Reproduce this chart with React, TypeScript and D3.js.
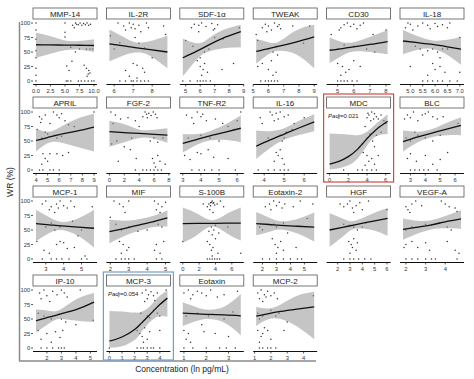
import React from 'react';
import * as d3 from 'd3';

const panelNames = ["MMP-14","IL-2R","SDF-1α","TWEAK","CD30","IL-18","APRIL","FGF-2","TNF-R2","IL-16","MDC","BLC","MCP-1","MIF","S-100B","Eotaxin-2","HGF","VEGF-A","IP-10","MCP-3","Eotaxin","MCP-2"];

const xExtents = [[0,10],[5.75,8.8],[4.8,8.8],[5.2,9.0],[4.5,8.1],[4.7,7.05],[4,9],[0,7.8],[3,6.2],[3.6,6.5],[0,6.2],[2.5,6.4],[2.45,5.7],[1.95,5.1],[0,7.1],[1.55,5.7],[1.35,6.05],[1.85,4.8],[1.25,5.25],[0,4.6],[0.95,3.55],[1.1,4.65]];

const xTickVals = [[0,2.5,5,7.5,10],[6,7,8],[5,6,7,8,9],[5,6,7,8,9],[5,6,7,8],[5,5.5,6,6.5,7],[4,5,6,7,8,9],[0,2,4,6,8],[3,4,5,6],[4,5,6],[0,2,4,6],[3,4,5,6],[3,4,5],[2,3,4,5],[0,2,4,6],[2,3,4,5],[2,3,4,5,6],[2,3,4],[2,3,4,5],[0,1,2,3,4],[1,2,3],[1,2,3,4]];
const xTickLabels = [["0.0","2.5","5.0","7.5","10.0"],null,null,null,null,["5.0","5.5","6.0","6.5","7.0"],null,null,null,null,null,null,null,null,null,null,null,null,null,null,null,null];

const yTickVals = [0,25,50,75,100];

const fitX = [
  [0,2.5,5,7.5,10],[5.75,6.5,7.1,7.8,8.8],[4.8,5.8,6.5,7.5,8.8],[5.2,6,6.7,7.8,9.0],[4.5,5.3,6,7,8.1],[4.7,5.3,5.9,6.5,7.05],
  [4,5,6,7.5,9],[0,2,4,5.5,7.8],[3,3.8,4.5,5.3,6.2],[3.6,4.3,5,5.7,6.5],[0,1,2,3,4,5,6.2],[2.5,3.5,4.5,5.5,6.4],
  [2.45,3.2,3.9,4.8,5.7],[1.95,2.8,3.6,4.4,5.1],[0,1.8,3.6,5.4,7.1],[1.55,2.5,3.3,4.5,5.7],[1.35,2.5,3.4,4.8,6.05],[1.85,2.6,3.3,4.0,4.8],
  [1.25,2.2,2.9,4.1,5.25],[0,1,2,2.5,3,3.5,4,4.6],[0.95,1.6,2.1,2.8,3.55],[1.1,1.8,2.6,3.6,4.65]
];
const fitY = [
  [62.5,62.2,62,61.6,61.2],[64,60.5,57.5,54.5,50],[40,52,61,73,85],[51,56,60,67,76],[53,56,59,63,68],[69,66,63,59,55],
  [51,56,61,67,74],[66,64.5,63,62,60],[46,53,59,65,72],[41,52,62,72,83],[10,15,23,36,54,70,84],[49,57,64,71,77],
  [61,59,57,55,53],[47,53,59,65,71],[61,61.3,61.5,61.8,62],[61,59.5,58,56.5,55],[50,55,59,65,70],[51,55,59,64,69],
  [47,53.5,58.5,67,79],[12,19,32,42,53,64,75,86],[60,59,58,57,55.5],[55,59,63,67,71]
];
const fitLo = [
  [40,47,53,54,50],[34,44,49,45,22],[8,38,50,56,58],[30,46,52,46,22],[31,44,51,50,46],[46,54,55,45,28],
  [32,46,48,40,32],[40,48,55,55,47],[30,44,51,52,48],[19,38,52,60,67],[1,3,8,20,42,58,62],[32,48,57,60,60],
  [31,45,50,40,20],[27,40,49,55,56],[28,42,56,44,32],[41,47,51,44,30],[21,40,52,50,40],[33,44,51,53,52],
  [27,43,50,47,45],[1,3,14,26,40,50,55,54],[38,47,50,44,22],[38,49,50,37,15]
];
const fitHi = [
  [83,77,70,69,72],[89,76,67,68,78],[73,65,72,87,97],[73,67,68,87,97],[75,67,67,76,88],[88,77,70,71,76],
  [71,66,73,88,97],[85,79,70,69,72],[62,62,67,78,94],[68,67,72,84,96],[63,62,61,60,66,80,96],[68,66,71,82,91],
  [85,72,64,70,85],[68,66,69,75,84],[89,78,67,78,89],[81,71,65,69,80],[79,69,66,78,88],[70,66,67,74,84],
  [67,64,66,85,95],[64,63,61,62,68,79,90,99],[79,70,66,71,93],[71,68,75,90,97]
];

const pts = [
  [[0,100],[0,88],[0,72],[0,52],[0,40],[0,22],[0,10],[0,0],[5,100],[5,84],[5,76],[5.2,0],[5.3,26],[5.7,18],[6,58],[6.2,34],[6.3,96],[6.8,100],[6.8,50],[7,98],[7.3,0],[7.3,97],[7.6,100],[7.8,0],[7.9,96],[8.2,99],[8.3,27],[8.4,0],[8.5,97],[8.7,55],[8.7,22],[8.8,100],[8.8,8],[9,12],[9,0],[9.1,18],[9.1,96],[9.3,55],[9.3,14],[9.4,98],[9.6,0],[9.8,55],[10,0],[5.5,0],[6,0],[6.6,92],[7.5,55]],
  [[5.8,78],[6,55],[6.3,66],[6.3,0],[6.5,95],[6.6,88],[6.6,18],[6.6,0],[6.8,100],[6.8,8],[6.9,92],[6.9,0],[7,98],[7,30],[7,0],[7.1,90],[7.2,27],[7.2,5],[7.2,0],[7.3,96],[7.3,65],[7.4,85],[7.4,0],[7.5,22],[7.6,57],[7.6,15],[7.6,0],[7.7,100],[7.8,92],[7.8,0],[8,40],[8.6,95],[8.7,80],[6.2,100],[7.1,75]],
  [[4.8,0],[5,70],[5.3,0],[5.4,92],[5.6,98],[5.8,35],[5.8,0],[5.9,85],[5.9,96],[6,25],[6,40],[6,0],[6.1,10],[6.1,100],[6.2,20],[6.2,0],[6.3,30],[6.3,50],[6.4,94],[6.4,0],[6.5,15],[6.6,55],[6.7,0],[6.8,99],[7,75],[7,90],[7.2,97],[7.5,20],[7.6,73],[8.3,30],[8.7,92],[6.9,88],[5.5,60]],
  [[5.2,80],[5.3,70],[5.3,25],[5.5,0],[5.6,30],[5.6,92],[5.8,0],[5.8,98],[6,55],[6,20],[6,0],[6,95],[6.2,35],[6.2,0],[6.2,88],[6.3,50],[6.3,10],[6.4,100],[6.4,0],[6.5,60],[6.5,15],[6.6,45],[6.6,0],[6.6,94],[6.8,90],[7.6,95],[8.3,65],[8.7,95],[5.9,85],[6.7,97]],
  [[4.6,80],[5,55],[5,30],[5,0],[5.2,10],[5.2,0],[5.2,92],[5.3,25],[5.4,62],[5.4,0],[5.4,97],[5.5,15],[5.6,0],[5.6,100],[5.7,20],[5.8,94],[5.9,0],[6,60],[6,35],[6,98],[6.2,0],[6.2,90],[6.4,25],[6.4,96],[6.8,55],[7.2,80],[7.3,50],[8,88],[5.1,88],[6.6,100]],
  [[4.8,92],[5,25],[5,98],[5.1,88],[5.2,60],[5.3,95],[5.4,55],[5.5,45],[5.5,0],[5.5,100],[5.7,52],[5.7,10],[5.7,0],[5.7,96],[5.8,90],[5.9,55],[5.9,30],[5.9,0],[6,20],[6,99],[6.1,50],[6.1,0],[6.1,94],[6.2,40],[6.2,25],[6.3,55],[6.3,0],[6.3,97],[6.4,15],[6.5,55],[6.5,92],[6.6,0],[6.6,100],[6.9,0],[7,75],[7,15],[4.9,100]],
  [[4.3,92],[4.3,0],[4.4,82],[4.5,88],[4.5,55],[4.5,10],[4.6,28],[4.6,0],[4.8,95],[4.8,65],[4.8,20],[5,62],[5,15],[5.2,80],[5.2,28],[5.2,0],[5.5,100],[5.5,0],[5.6,60],[5.8,95],[5.8,55],[5.8,28],[6,90],[6,0],[6.2,97],[6.2,58],[6.3,25],[6.5,85],[6.8,78],[6.8,30],[7.3,75],[9,100],[4.1,70]],
  [[0.2,100],[0.3,45],[0.5,80],[0.8,95],[1,50],[1.2,15],[1.5,88],[2,40],[2.5,90],[2.8,35],[3,55],[3.5,85],[3.5,0],[3.6,20],[4,75],[4.5,92],[4.5,0],[4.8,100],[5,96],[5,0],[5.1,90],[5.3,98],[5.5,50],[5.5,0],[5.6,94],[5.8,20],[5.9,100],[6,55],[6,12],[6,0],[6.2,5],[6.2,96],[6.5,48],[6.5,25],[6.5,0],[6.8,15],[7,0],[7.2,55],[7.5,10],[6.4,90]],
  [[3.1,25],[3.2,95],[3.3,55],[3.4,18],[3.5,90],[3.5,0],[3.6,80],[3.8,100],[3.8,30],[3.9,0],[4,92],[4,60],[4,28],[4.2,0],[4.3,85],[4.4,35],[4.5,55],[4.6,0],[4.7,22],[4.8,88],[5,50],[5,0],[5.2,80],[5.5,75],[5.5,20],[5.8,70],[5.9,0],[6,85],[6.2,100],[4.1,96]],
  [[3.7,0],[3.8,90],[3.9,80],[4.2,55],[4.2,0],[4.4,95],[4.5,85],[4.5,15],[4.5,0],[4.6,98],[4.6,30],[4.7,88],[4.7,25],[4.8,100],[4.8,60],[4.8,35],[4.8,0],[4.9,50],[4.9,20],[5,92],[5,55],[5,10],[5,0],[5.1,65],[5.2,95],[5.2,0],[5.4,70],[5.5,80],[6,90],[4.3,100]],
  [[1.5,0],[3,0],[3.5,45],[3.5,0],[3.6,30],[3.8,75],[3.8,8],[4,90],[4,55],[4,25],[4,0],[4.2,95],[4.2,15],[4.3,62],[4.4,85],[4.5,100],[4.5,20],[4.5,0],[4.6,50],[4.8,97],[4.8,40],[4.8,10],[5,92],[5,60],[5,0],[5.2,88],[5.2,25],[5.5,95],[5.5,65],[5.8,85],[6,80],[4.1,98],[4.7,88]],
  [[2.6,88],[2.7,55],[2.8,95],[2.8,20],[3,90],[3,50],[3,28],[3,0],[3.2,100],[3.3,65],[3.3,0],[3.4,15],[3.5,85],[3.5,60],[3.6,0],[3.8,95],[3.9,0],[4,55],[4,25],[4.2,100],[4.2,0],[4.5,92],[4.5,50],[4.5,10],[4.8,88],[4.8,0],[5,60],[5,18],[5.2,92],[5.5,30],[6.2,80],[4,97]],
  [[2.5,30],[2.8,95],[2.8,0],[2.9,15],[3,100],[3,55],[3.2,85],[3.2,10],[3.3,90],[3.3,62],[3.3,0],[3.5,80],[3.5,50],[3.6,95],[3.6,25],[3.6,0],[3.8,100],[3.8,55],[3.8,30],[3.9,0],[4,92],[4,28],[4.2,88],[4.2,18],[4.3,0],[4.4,100],[4.5,65],[4.6,90],[4.6,20],[4.8,40],[5,50],[5,0],[5.2,5],[5.3,0],[5.6,90],[3.7,88]],
  [[2,72],[2.2,100],[2.3,60],[2.3,0],[2.5,95],[2.5,30],[2.6,50],[2.6,10],[2.6,0],[2.7,90],[2.7,25],[2.8,80],[2.8,0],[2.9,15],[3,100],[3,55],[3,20],[3,0],[3.3,0],[3.5,48],[4,50],[4.4,100],[4.4,15],[4.5,85],[4.5,25],[4.5,0],[4.6,95],[4.6,60],[4.7,80],[4.7,10],[4.8,90],[4.8,55],[4.8,0],[4.9,30],[5,98]],
  [[0,30],[2.5,95],[3,90],[3,30],[3,0],[3.2,95],[3.2,48],[3.3,85],[3.3,25],[3.3,0],[3.4,92],[3.5,98],[3.5,55],[3.5,15],[3.6,100],[3.6,42],[3.6,5],[3.6,0],[3.7,80],[3.7,20],[3.8,97],[3.8,50],[3.9,93],[3.9,0],[4,58],[4,35],[4.2,95],[4.2,0],[4.3,10],[4.4,45],[4.5,0],[4.6,100],[5,90],[5.5,55],[7.1,10],[3.4,97],[3.7,96]],
  [[1.8,55],[2,50],[2,0],[2.2,90],[2.5,95],[2.5,0],[2.6,85],[2.7,35],[2.8,100],[2.8,60],[2.9,25],[3,92],[3,55],[3,10],[3,0],[3.1,20],[3.2,98],[3.3,30],[3.4,88],[3.5,62],[3.5,15],[3.5,0],[3.6,95],[3.8,45],[4,0],[4.2,90],[4.4,20],[4.5,0],[4.7,100],[4.8,0],[5.2,70],[5.6,95]],
  [[2.2,95],[2.5,90],[2.5,60],[2.5,0],[2.8,95],[2.9,30],[3,100],[3,58],[3,10],[3,0],[3.1,25],[3.2,88],[3.2,20],[3.3,80],[3.3,55],[3.3,35],[3.3,0],[3.5,92],[3.5,15],[3.6,50],[3.6,28],[3.7,0],[3.8,97],[4,85],[4,55],[4.2,0],[4.3,62],[4.5,100],[4.7,0],[6,85]],
  [[1.9,20],[2,90],[2,50],[2,25],[2,0],[2.1,85],[2.2,80],[2.3,95],[2.3,55],[2.3,30],[2.3,0],[2.5,100],[2.6,20],[2.6,0],[2.8,92],[3,60],[3,28],[3,0],[3.2,15],[3.3,58],[3.3,0],[3.5,0],[3.7,62],[3.8,100],[4,95],[4.1,55],[4.1,30],[4.2,90],[4.3,50],[4.5,88],[4.5,15],[4.6,82],[4.6,0],[4.7,10]],
  [[1.4,60],[1.4,30],[1.5,95],[1.6,85],[1.6,15],[1.6,0],[1.8,100],[1.8,55],[2,90],[2,25],[2,0],[2.2,80],[2.3,50],[2.3,10],[2.4,98],[2.4,0],[2.6,28],[2.7,92],[2.8,58],[2.8,0],[2.9,18],[3,100],[3,50],[3,0],[3.1,30],[3.2,95],[3.2,0],[3.3,45],[3.4,88],[4,40],[4.3,100],[5.2,48]],
  [[0,0],[2.2,30],[2.2,0],[2.4,25],[2.5,60],[2.5,0],[2.6,95],[2.6,20],[2.7,10],[2.7,0],[2.8,80],[2.8,35],[2.9,100],[3,85],[3,55],[3,15],[3,0],[3.1,92],[3.2,52],[3.2,28],[3.3,97],[3.3,0],[3.5,90],[3.5,65],[3.5,0],[3.6,82],[3.8,95],[3.8,60],[4,55],[4,30],[4,0],[4.5,100]],
  [[1,95],[1,30],[1,0],[1.1,55],[1.1,15],[1.2,100],[1.2,25],[1.3,85],[1.3,10],[1.4,92],[1.4,0],[1.6,98],[1.6,60],[1.8,95],[1.8,40],[1.9,28],[2,90],[2,0],[2.1,55],[2.2,100],[2.3,58],[2.4,25],[2.5,88],[2.6,0],[2.8,92],[2.8,50],[2.9,0],[3,20],[3.2,62],[3.3,0],[3.4,98]],
  [[1.2,95],[1.2,60],[1.2,30],[1.3,85],[1.3,50],[1.3,10],[1.3,0],[1.4,100],[1.4,20],[1.5,80],[1.5,55],[1.5,25],[1.5,0],[1.6,92],[1.6,35],[1.7,88],[1.8,98],[1.8,30],[1.8,0],[2,90],[2,65],[2,15],[2,0],[2.2,95],[2.3,55],[2.3,0],[2.4,85],[2.5,60],[2.8,30],[3,45],[4.6,90]]
];

const padjText = { 10: "=0.021", 19: "=0.054" };
const highlight = { 10: "#d9463f", 19: "#6e9fd3" };

const COL_X0 = 33, COL_PITCH = 73.4, PANEL_W = 64;
const ROW_Y0 = 8, ROW_PITCH = 89, STRIP_H = 11, PANEL_H = 64;
const FONT = "'Liberation Sans', Arial, sans-serif";

export default function App() {
  return (
    <svg width={474} height={379} style={{ position: 'absolute', left: 0, top: 0, background: '#fff' }} fontFamily={FONT}>
      <rect width={474} height={379} fill="#fff" />
      <line x1={19.5} y1={22} x2={19.5} y2={361} stroke="#8a8a8a" strokeWidth={1.5} />
      <line x1={19} y1={361} x2={316} y2={361} stroke="#8a8a8a" strokeWidth={1.5} />
      <text transform="translate(13,182) rotate(-90)" textAnchor="middle" fontSize={8.5} fill="#222">WR (%)</text>
      <text x={182} y={372} textAnchor="middle" fontSize={8.5} fill="#222">Concentration (ln pg/mL)</text>
      {panelNames.map((name, i) => {
        const col = i % 6, row = Math.floor(i / 6);
        const x0 = COL_X0 + col * COL_PITCH;
        const top = ROW_Y0 + row * ROW_PITCH;
        const pTop = top + STRIP_H + 1, pBot = pTop + PANEL_H;
        const xs = d3.scaleLinear().domain(xExtents[i]).range([x0 + 3, x0 + PANEL_W - 3]);
        const ys = d3.scaleLinear().domain([0, 100]).range([pBot - 3, pTop + 3]);
        const idx = fitX[i].map((_, j) => j);
        const area = d3.area<number>().x(j => xs(fitX[i][j])).y0(j => ys(fitLo[i][j])).y1(j => ys(fitHi[i][j])).curve(d3.curveNatural);
        const line = d3.line<number>().x(j => xs(fitX[i][j])).y(j => ys(fitY[i][j])).curve(d3.curveNatural);
        const labels = xTickLabels[i] || xTickVals[i].map(v => String(v));
        const hl = highlight[i];
        return (
          <g key={name}>
            <defs>
              <clipPath id={`clip${i}`}><rect x={x0} y={pTop} width={PANEL_W} height={PANEL_H} /></clipPath>
            </defs>
            <rect x={x0} y={top} width={PANEL_W} height={STRIP_H} fill="#fff" stroke="#555" strokeWidth={0.8} />
            <text x={x0 + PANEL_W / 2} y={top + 8.6} textAnchor="middle" fontSize={8} fill="#1a1a1a">{name}</text>
            <g clipPath={`url(#clip${i})`}>
              {pts[i].map((p, k) => (
                <circle key={k} cx={xs(p[0])} cy={ys(p[1])} r={0.75} fill="#333" />
              ))}
              <path d={area(idx) || ''} fill="#8c8c8c" fillOpacity={0.5} />
              <path d={line(idx) || ''} fill="none" stroke="#111" strokeWidth={1.3} />
            </g>
            <line x1={x0} x2={x0 + PANEL_W} y1={pBot + 0.5} y2={pBot + 0.5} stroke="#111" strokeWidth={1} />
            {xTickVals[i].map((v, k) => (
              <g key={k}>
                <line x1={xs(v)} x2={xs(v)} y1={pBot + 0.5} y2={pBot + 2.5} stroke="#111" strokeWidth={0.7} />
                <text x={xs(v)} y={pBot + 8.5} textAnchor="middle" fontSize={5.8} fill="#333">{labels[k]}</text>
              </g>
            ))}
            {col === 0 && yTickVals.map(v => (
              <g key={v}>
                <line x1={x0 - 2} x2={x0} y1={ys(v)} y2={ys(v)} stroke="#111" strokeWidth={0.7} />
                <text x={x0 - 2.8} y={ys(v) + 2} textAnchor="end" fontSize={5.8} fill="#333">{v}</text>
              </g>
            ))}
            {padjText[i] && (
              <text x={x0 + 1.5} y={top + 21} fontSize={6} fill="#222">
                <tspan fontStyle="italic">Padj</tspan>{padjText[i]}
              </text>
            )}
            {hl && (
              <rect x={x0 - 3} y={top - 3} width={PANEL_W + 6} height={88} fill="none" stroke={hl} strokeWidth={1.2} />
            )}
          </g>
        );
      })}
    </svg>
  );
}
